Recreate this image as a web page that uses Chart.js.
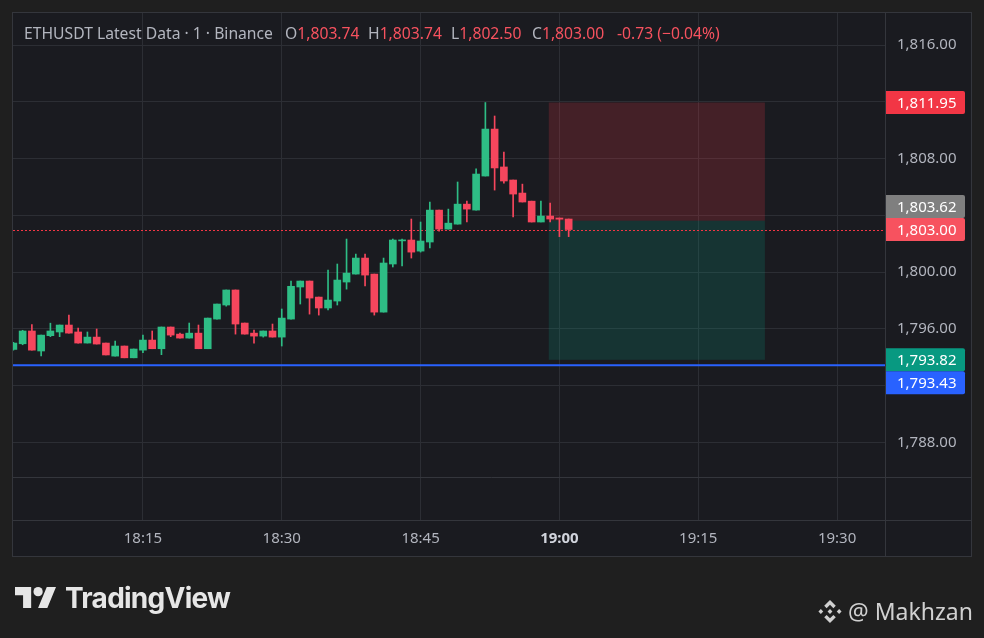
<!DOCTYPE html>
<html>
<head>
<meta charset="utf-8">
<script src="https://cdn.jsdelivr.net/npm/chart.js@4.4.1/dist/chart.umd.min.js"></script>
<style>
html, body { margin: 0; padding: 0; background: #1f1f1f; width: 984px; height: 638px; overflow: hidden; }
#wrap { position: relative; width: 984px; height: 638px; font-family: "Noto Sans", sans-serif; }
#chart { position: absolute; left: 0; top: 0; }
.hdr { position: absolute; top: 23px; font-size: 15.7px; line-height: 20px; color: #b2b5be; white-space: nowrap; }
.hdr .r { color: #f7525f; }
#tvlogo { position: absolute; left: 15px; top: 587px; }
#tvtext { position: absolute; left: 65px; top: 580px; font-family: Inter, sans-serif; font-weight: 700; font-size: 28px; line-height: 36px; color: #e6e6e6; letter-spacing: -0.75px; }
#bnb { position: absolute; left: 816px; top: 598px; }
#author { position: absolute; left: 848px; top: 596px; font-size: 23px; line-height: 30px; color: #d0d0d0; white-space: nowrap; }
</style>
</head>
<body>
<div id="wrap">
  <canvas id="chart" width="984" height="638"></canvas>
  <div class="hdr" style="left:24px">ETHUSDT Latest Data · 1 · Binance</div>
  <div class="hdr" style="left:285px">O<span class="r">1,803.74</span></div>
  <div class="hdr" style="left:368px">H<span class="r">1,803.74</span></div>
  <div class="hdr" style="left:451px">L<span class="r">1,802.50</span></div>
  <div class="hdr" style="left:532px">C<span class="r">1,803.00</span></div>
  <div class="hdr" style="left:617px"><span class="r">-0.73 (−0.04%)</span></div>
  <svg id="tvlogo" width="41" height="21" viewBox="0 4 35.5 18" preserveAspectRatio="none">
    <path d="M14 22H7V11H0V4h14v18zM28 22h-8l7.5-18h8L28 22z" fill="#e6e6e6"/>
    <circle cx="20" cy="8" r="4" fill="#e6e6e6"/>
  </svg>
  <div id="tvtext">TradingView</div>
  <svg id="bnb" width="28" height="27" viewBox="0 0 28 28">
    <g fill="#d0d0d0">
      <path d="M14 2 L20 8 L17.5 10.5 L14 7 L10.5 10.5 L8 8 Z"/>
      <path d="M14 26 L20 20 L17.5 17.5 L14 21 L10.5 17.5 L8 20 Z"/>
      <path d="M2 14 L4.5 11.5 L7 14 L4.5 16.5 Z"/>
      <path d="M26 14 L23.5 11.5 L21 14 L23.5 16.5 Z"/>
      <path d="M14 11.5 L16.5 14 L14 16.5 L11.5 14 Z"/>
    </g>
  </svg>
  <div id="author">@ Makhzan</div>
</div>
<script>
// 1-minute ETHUSDT candles, 18:01 .. 19:01
const times = [
  '18:01','18:02','18:03','18:04','18:05','18:06','18:07','18:08','18:09','18:10',
  '18:11','18:12','18:13','18:14','18:15','18:16','18:17','18:18','18:19','18:20',
  '18:21','18:22','18:23','18:24','18:25','18:26','18:27','18:28','18:29','18:30',
  '18:31','18:32','18:33','18:34','18:35','18:36','18:37','18:38','18:39','18:40',
  '18:41','18:42','18:43','18:44','18:45','18:46','18:47','18:48','18:49','18:50',
  '18:51','18:52','18:53','18:54','18:55','18:56','18:57','18:58','18:59','19:00',
  '19:01'
];
const opens = [
  1794.55, 1794.95, 1795.85, 1794.44, 1795.52, 1795.78, 1796.27, 1795.78, 1795.00, 1795.42,
  1795.00, 1794.08, 1794.79, 1793.96, 1794.50, 1795.21, 1794.60, 1796.13, 1795.63, 1795.35,
  1795.70, 1794.60, 1796.69, 1797.68, 1798.74, 1796.41, 1795.70, 1795.49, 1795.85, 1795.42,
  1796.69, 1798.95, 1799.37, 1798.24, 1797.47, 1797.96, 1799.30, 1799.86, 1800.99, 1799.86,
  1797.18, 1800.57, 1802.20, 1802.26, 1801.48, 1802.12, 1804.37, 1803.03, 1803.38, 1804.79,
  1804.37, 1806.77, 1810.08, 1807.41, 1806.49, 1805.57, 1805.00, 1803.53, 1803.95, 1803.81,
  1803.74
];
const highs = [
  1795.05, 1795.90, 1796.30, 1795.56, 1796.40, 1796.27, 1796.97, 1796.06, 1795.78, 1795.99,
  1795.00, 1795.14, 1794.79, 1794.58, 1795.56, 1795.85, 1796.13, 1796.13, 1795.70, 1796.41,
  1796.27, 1796.76, 1797.75, 1798.74, 1798.74, 1796.41, 1795.92, 1795.85, 1796.34, 1797.40,
  1799.37, 1799.37, 1799.37, 1798.24, 1800.14, 1800.57, 1802.33, 1801.27, 1801.27, 1799.86,
  1800.99, 1802.33, 1802.33, 1803.74, 1803.53, 1804.94, 1804.37, 1804.44, 1806.35, 1805.00,
  1807.27, 1811.95, 1811.00, 1808.46, 1806.49, 1806.20, 1805.00, 1805.00, 1804.86, 1803.81,
  1803.74
];
const lows = [
  1794.50, 1794.88, 1794.50, 1794.10, 1795.45, 1795.45, 1795.70, 1795.00, 1795.00, 1794.93,
  1794.16, 1794.08, 1793.96, 1793.96, 1794.32, 1794.60, 1794.18, 1795.45, 1795.35, 1795.35,
  1794.60, 1794.60, 1796.69, 1797.60, 1795.63, 1795.63, 1795.00, 1795.42, 1795.42, 1794.79,
  1796.69, 1797.75, 1797.04, 1796.97, 1797.33, 1797.68, 1798.80, 1799.86, 1799.02, 1796.97,
  1797.18, 1800.36, 1800.43, 1800.99, 1801.41, 1801.70, 1802.89, 1803.03, 1803.38, 1803.53,
  1804.37, 1806.77, 1805.78, 1806.27, 1803.88, 1804.94, 1803.53, 1803.53, 1803.53, 1802.50,
  1802.50
];
const closes = [
  1795.00, 1795.85, 1794.50, 1795.56, 1795.85, 1796.27, 1795.70, 1795.00, 1795.42, 1794.93,
  1794.16, 1794.79, 1793.96, 1794.58, 1795.21, 1794.60, 1796.13, 1795.56, 1795.35, 1795.70,
  1794.60, 1796.76, 1797.75, 1798.74, 1796.34, 1795.63, 1795.49, 1795.85, 1795.42, 1796.76,
  1799.00, 1799.37, 1798.17, 1797.47, 1798.03, 1799.44, 1799.93, 1800.99, 1799.79, 1797.18,
  1800.64, 1802.26, 1802.26, 1801.41, 1802.19, 1804.37, 1803.03, 1803.45, 1804.79, 1804.44,
  1806.91, 1810.08, 1807.34, 1806.42, 1805.50, 1804.94, 1803.53, 1803.95, 1803.74, 1803.73,
  1803.00
];

const timeTicks = ['18:15', '18:30', '18:45', '19:00', '19:15', '19:30'];
const priceTicks = [1788, 1792, 1796, 1800, 1804, 1808, 1812, 1816];

// short position tool: stop, entry, target, and the two horizontal levels
const positionStart = '18:59';
const positionEnd = '19:22';
const stopPrice = 1811.95;
const entryPrice = 1803.62;
const targetPrice = 1793.82;
const lastPrice = 1803.00;
const bluePrice = 1793.43;

const upColor = '#2ebd85';
const downColor = '#f6465d';
const gridColor = '#2c2e34';
const lineColor = '#34363c';
const textColor = '#b2b5be';
const font = '"Noto Sans", sans-serif';

function toMin(s) {
  const [h, m] = s.split(':').map(Number);
  return (h - 18) * 60 + m;
}
function fmtTime(v) {
  const h = 18 + Math.floor(v / 60), m = v % 60;
  return h + ':' + String(m).padStart(2, '0');
}
function fmtPrice(v) {
  return v.toLocaleString('en-US', { minimumFractionDigits: 2, maximumFractionDigits: 2 });
}

const colors = opens.map((o, i) => closes[i] >= o ? upColor : downColor);
const bodies = times.map((t, i) => ({ x: toMin(t), y: [opens[i], closes[i]] }));
const wicks = times.map((t, i) => ({ x: toMin(t), y: [lows[i], highs[i]] }));

const backdrop = {
  id: 'backdrop',
  beforeDraw(chart) {
    const c = chart.ctx;
    c.save();
    c.fillStyle = '#1f1f1f';
    c.fillRect(0, 0, chart.width, chart.height);
    c.fillStyle = '#1a1b20';
    c.fillRect(12, 12, 959, 544);
    c.restore();
  },
  beforeDatasetsDraw(chart) {
    const c = chart.ctx, x = chart.scales.x, y = chart.scales.y, a = chart.chartArea;
    c.save();
    c.beginPath();
    c.rect(a.left, a.top, a.right - a.left, a.bottom - a.top);
    c.clip();
    const x0 = x.getPixelForValue(toMin(positionStart) - 0.15);
    const x1 = x.getPixelForValue(toMin(positionEnd) + 0.2);
    const yStop = y.getPixelForValue(stopPrice);
    const yEntry = y.getPixelForValue(entryPrice);
    const yTarget = y.getPixelForValue(targetPrice);
    c.fillStyle = 'rgba(242, 54, 69, 0.2)';
    c.fillRect(x0, yStop, x1 - x0, yEntry - yStop);
    c.fillStyle = 'rgba(8, 153, 129, 0.2)';
    c.fillRect(x0, yEntry, x1 - x0, yTarget - yEntry);

    // last price dotted line
    const yLast = Math.round(y.getPixelForValue(lastPrice)) + 0.5;
    c.strokeStyle = '#f23645';
    c.lineWidth = 1;
    c.setLineDash([2, 2]);
    c.beginPath();
    c.moveTo(a.left, yLast);
    c.lineTo(a.right, yLast);
    c.stroke();
    c.setLineDash([]);

    // horizontal line drawing
    const yBlue = y.getPixelForValue(bluePrice);
    c.strokeStyle = '#2962ff';
    c.lineWidth = 2;
    c.beginPath();
    c.moveTo(a.left, yBlue);
    c.lineTo(a.right, yBlue);
    c.stroke();
    c.restore();
  },
  afterDraw(chart) {
    const c = chart.ctx, y = chart.scales.y, a = chart.chartArea;
    c.save();
    c.strokeStyle = lineColor;
    c.lineWidth = 1;
    c.beginPath();
    // pane separator and price scale separator
    c.moveTo(12, 477.5); c.lineTo(971, 477.5);
    c.moveTo(a.right + 0.5, 12); c.lineTo(a.right + 0.5, 556);
    c.moveTo(12, a.bottom + 0.5); c.lineTo(971, a.bottom + 0.5);
    c.stroke();
    c.strokeRect(12.5, 12.5, 959, 544);

    // price scale labels
    const h = 23;
    const labels = [
      { v: stopPrice, bg: '#f23645' },
      { v: lastPrice, bg: '#f7525f' },
      { v: entryPrice, bg: '#7f7f7f', push: -1 },
      { v: targetPrice, bg: '#089981' },
      { v: bluePrice, bg: '#2962ff', push: 1 }
    ];
    const placed = [];
    labels.forEach(l => {
      let cy = y.getPixelForValue(l.v);
      placed.forEach(p => {
        if (Math.abs(p - cy) < h) cy = l.push < 0 ? p - h : p + h;
      });
      placed.push(cy);
      c.fillStyle = l.bg;
      c.beginPath();
      c.roundRect(a.right + 1, cy - h / 2, 79, h, [0, 2, 2, 0]);
      c.fill();
      c.fillStyle = '#ffffff';
      c.font = '15px ' + font;
      c.textBaseline = 'middle';
      c.textAlign = 'left';
      c.fillText(fmtPrice(l.v), a.right + 12, cy + 1);
    });
    c.restore();
  }
};

new Chart(document.getElementById('chart'), {
  type: 'bar',
  data: {
    datasets: [{
      data: bodies,
      backgroundColor: colors,
      barThickness: 7,
      minBarLength: 1,
      grouped: false,
      order: 0
    }, {
      data: wicks,
      backgroundColor: colors,
      barThickness: 1,
      grouped: false,
      order: 1
    }]
  },
  options: {
    responsive: false,
    animation: false,
    devicePixelRatio: 1,
    layout: { padding: { left: 13, top: 12, right: 13, bottom: 82 } },
    plugins: { legend: { display: false }, tooltip: { enabled: false } },
    scales: {
      x: {
        type: 'linear',
        min: 0.96,
        max: 95.18,
        offset: false,
        grid: { color: gridColor, offset: false, drawTicks: false },
        border: { color: lineColor },
        afterBuildTicks: s => { s.ticks = timeTicks.map(t => ({ value: toMin(t) })); },
        afterFit: s => { s.height = 36; s.paddingLeft = 0; s.paddingRight = 0; },
        ticks: {
          padding: 10,
          maxRotation: 0,
          autoSkip: false,
          color: ctx => ctx.tick && ctx.tick.value === 60 ? '#d1d4dc' : textColor,
          font: ctx => ({ family: font, size: 15, weight: ctx.tick && ctx.tick.value === 60 ? 'bold' : 'normal' }),
          callback: v => fmtTime(v)
        }
      },
      y: {
        type: 'linear',
        position: 'right',
        min: 1782.53,
        max: 1818.33,
        grid: { color: gridColor, drawTicks: false },
        border: { color: lineColor },
        afterBuildTicks: s => { s.ticks = priceTicks.map(v => ({ value: v })); },
        afterFit: s => { s.width = 86; s.paddingTop = 0; s.paddingBottom = 0; },
        ticks: {
          padding: 12,
          color: textColor,
          font: { family: font, size: 15 },
          callback: v => fmtPrice(v)
        }
      }
    }
  },
  plugins: [backdrop]
});
</script>
</body>
</html>
